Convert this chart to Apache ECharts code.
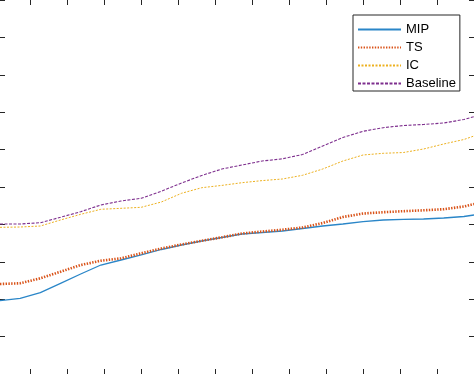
<!DOCTYPE html>
<html>
<head>
<meta charset="utf-8">
<script src="https://cdn.jsdelivr.net/npm/echarts@6/dist/echarts.min.js"></script>
<style>
html,body{margin:0;padding:0;background:#fff;}
#chart{width:474px;height:374px;}
</style>
</head>
<body>
<div id="chart"></div>
<script>
// x positions of samples (data units; ticks at integers 1..12)
var xValues = [0.25,0.75,1.25,1.75,2.25,2.75,3.25,3.75,4.25,4.75,5.25,5.75,6.25,6.75,7.25,7.75,8.25,8.75,9.25,9.75,10.25,10.75,11.25,11.75,12];
var mip = [1.960,2.024,2.174,2.425,2.674,2.914,3.048,3.182,3.329,3.449,3.556,3.650,3.743,3.783,3.824,3.890,3.957,4.011,4.072,4.118,4.136,4.144,4.171,4.211,4.251];
var ts = [2.406,2.425,2.559,2.735,2.914,3.029,3.094,3.227,3.356,3.463,3.561,3.655,3.757,3.810,3.858,3.917,4.037,4.198,4.291,4.326,4.353,4.377,4.406,4.479,4.545];
var ic = [3.922,3.930,3.957,4.118,4.270,4.404,4.430,4.457,4.599,4.832,4.981,5.043,5.115,5.171,5.214,5.313,5.481,5.695,5.856,5.901,5.922,6.016,6.150,6.270,6.364];
var baseline = [4.011,4.011,4.045,4.190,4.340,4.519,4.626,4.698,4.888,5.107,5.307,5.481,5.588,5.695,5.754,5.869,6.096,6.324,6.489,6.586,6.644,6.671,6.711,6.805,6.880];
var seriesNames = ['MIP','TS','IC','Baseline'];
var xMin = 0.25, xMax = 12;          // visible x range of the plot
var xTickMin = 1, xTickMax = 12, xStep = 1; // x tick values
var yMin = 0, yMax = 10, yStep = 1;

function pairs(ys){ return xValues.map(function(x,i){ return [x, ys[i]]; }); }

var W = 474;
var tickGridLeft = (xTickMin - xMin) / (xMax - xMin) * W;

var tickStyle = {show:true, inside:true, length:5, lineStyle:{color:'#262626', width:1}};
var lineStyleAx = {color:'#262626', width:1};

var chart = echarts.init(document.getElementById('chart'), null, {renderer:'canvas'});
chart.setOption({
  animation:false,
  backgroundColor:'#ffffff',
  grid:[
    {left:0, right:0, top:0, bottom:0, containLabel:false},
    {left:tickGridLeft, right:0, top:0, bottom:0, containLabel:false}
  ],
  xAxis:[
    {type:'value', gridIndex:0, position:'bottom', min:xMin, max:xMax,
     axisLine:{show:false}, axisTick:{show:false}, axisLabel:{show:false}, splitLine:{show:false}},
    {type:'value', gridIndex:0, position:'top', min:xMin, max:xMax,
     axisLine:{show:true, lineStyle:lineStyleAx}, axisTick:{show:false}, axisLabel:{show:false}, splitLine:{show:false}},
    {type:'value', gridIndex:1, position:'bottom', min:xTickMin - 1, max:xTickMax, interval:xStep,
     axisLine:{show:false}, axisTick:tickStyle, axisLabel:{show:false}, splitLine:{show:false}},
    {type:'value', gridIndex:1, position:'top', min:xTickMin - 1, max:xTickMax, interval:xStep,
     axisLine:{show:false}, axisTick:tickStyle, axisLabel:{show:false}, splitLine:{show:false}}
  ],
  yAxis:[
    {type:'value', gridIndex:0, position:'left', min:yMin, max:yMax, interval:yStep,
     axisLine:{show:false}, axisTick:tickStyle, axisLabel:{show:false}, splitLine:{show:false}},
    {type:'value', gridIndex:0, position:'right', min:yMin, max:yMax, interval:yStep,
     axisLine:{show:false}, axisTick:tickStyle, axisLabel:{show:false}, splitLine:{show:false}},
    {type:'value', gridIndex:1, min:yMin, max:yMax, show:false}
  ],
  legend:{
    left:353, top:15, orient:'vertical',
    itemWidth:43, itemHeight:12, itemGap:5,
    padding:[8,4,1,4],
    itemStyle:{opacity:0},
    borderColor:'#262626', borderWidth:1, backgroundColor:'#ffffff', borderRadius:0,
    textStyle:{fontFamily:'Liberation Sans, Arial, sans-serif', fontSize:13, color:'#000'},
    data:seriesNames
  },
  series:[
    {name:seriesNames[0], type:'line', xAxisIndex:0, yAxisIndex:0, data:pairs(mip), symbol:'none',
     lineStyle:{color:'#2a86c8', width:1.3, type:'solid'}, itemStyle:{color:'#2a86c8'}},
    {name:seriesNames[1], type:'line', xAxisIndex:0, yAxisIndex:0, data:pairs(ts), symbol:'none', z:3,
     lineStyle:{color:'#D95319', width:2.6, type:[1.4,1.4], cap:'butt'}, itemStyle:{color:'#D95319'}},
    {name:seriesNames[2], type:'line', xAxisIndex:0, yAxisIndex:0, data:pairs(ic), symbol:'none',
     lineStyle:{color:'#EDB120', width:1, type:[2,1.5]}, itemStyle:{color:'#EDB120'}},
    {name:seriesNames[3], type:'line', xAxisIndex:0, yAxisIndex:0, data:pairs(baseline), symbol:'none',
     lineStyle:{color:'#7E2F8E', width:1.1, type:[3,1.5]}, itemStyle:{color:'#7E2F8E'}}
  ]
});
</script>
</body>
</html>
